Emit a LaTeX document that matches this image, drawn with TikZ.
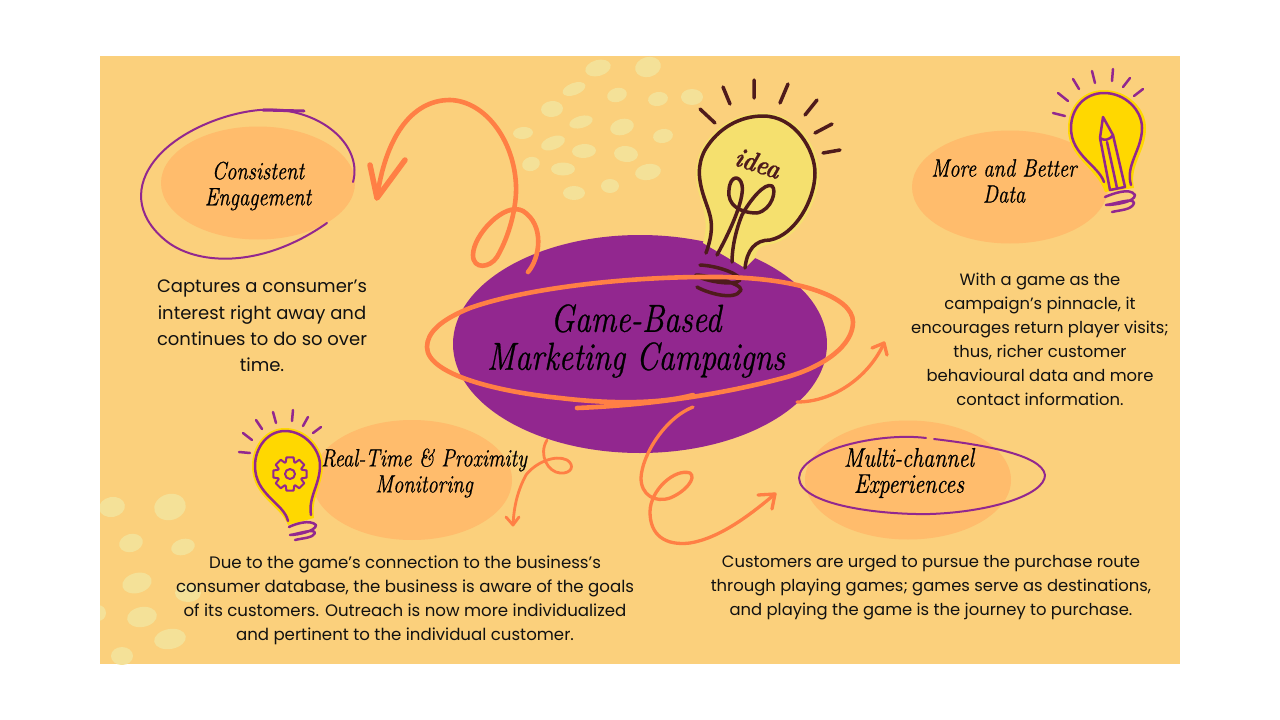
\documentclass[tikz,border=0pt]{standalone}
\usepackage{fontspec}
\setmainfont{Poppins}
\newfontfamily\handfont[FakeStretch=0.82,FakeBold=0.7]{Latin Modern Roman}
\definecolor{panelc}{HTML}{FBD07C}
\definecolor{blobc}{HTML}{FFBC6C}
\definecolor{purplec}{HTML}{92278F}
\definecolor{orangec}{HTML}{FF7F45}
\definecolor{dotc}{HTML}{F4E198}
\definecolor{brownc}{HTML}{4F1B1C}
\definecolor{bulbc}{HTML}{F5E06E}
\definecolor{goldc}{HTML}{FFD800}
\definecolor{inkc}{HTML}{111111}
\usetikzlibrary{shapes.geometric}
\tikzset{
  blob/.style={ellipse,fill=blobc,inner sep=0pt},
  body/.style={align=center,text=inkc,inner sep=0pt,font=\fontsize{16.4}{24}\selectfont},
  head/.style={align=center,text=black,inner sep=0pt,font=\handfont\itshape\fontsize{25}{26}\selectfont},
  swirl/.style={draw=orangec,line width=4.6pt,line cap=round,line join=round},
  swirlthin/.style={draw=orangec,line width=3.3pt,line cap=round,line join=round},
  ring/.style={draw=purplec,line width=2pt,line cap=round,line join=round},
  brownln/.style={draw=brownc,line width=3.5pt,line cap=round,line join=round},
  purpln/.style={draw=purplec,line width=2.5pt,line cap=round,line join=round},
}
\newcommand{\pdot}[5]{\fill[dotc,rotate around={#5:(#1,#2)}] (#1,#2) ellipse [x radius=#3,y radius=#4];}
\begin{document}
\begin{tikzpicture}[x=1pt,y=-1pt]
\useasboundingbox (0,0) rectangle (1280,720);
\fill[white] (0,0) rectangle (1280,720);
\fill[panelc] (100,56) rectangle (1180,664);
% pale dots
\begin{scope}
\clip (100,56) rectangle (1180,664);
\pdot{598}{68}{13}{8}{15}\pdot{648}{67}{13}{10}{15}\pdot{574}{89}{12}{6}{20}\pdot{617}{95}{10}{7}{15}
\pdot{658}{99}{10}{7}{10}\pdot{692}{97}{11}{8}{0}\pdot{552}{109}{11}{8}{5}\pdot{581}{122}{12}{6}{15}
\pdot{622}{127}{12}{8}{15}\pdot{663}{136}{10}{7}{10}\pdot{523}{133}{10}{6}{5}\pdot{553}{143}{12.5}{6.5}{20}
\pdot{584}{151}{12}{7}{3}\pdot{626}{154}{12}{8}{-5}\pdot{648}{172}{13}{8}{10}\pdot{531}{164}{9}{7}{15}
\pdot{563}{169}{12}{6.5}{0}\pdot{574}{193}{11}{7}{0}\pdot{610}{186}{9}{7}{0}
\pdot{112}{507}{13}{10}{10}\pdot{170}{507}{16}{13}{15}\pdot{131}{543}{12}{9}{15}\pdot{183}{547}{12}{8}{15}
\pdot{137}{583}{15}{10}{15}\pdot{188}{593}{13}{9}{0}\pdot{98}{613}{8}{8}{0}\pdot{142}{617}{15}{10}{10}
\pdot{170}{639}{16}{10}{10}\pdot{122}{656}{11}{9}{0}
\end{scope}
% blobs
\node[blob,minimum width=194pt,minimum height=113pt] (consistentblob) at (258,183) {};
\node[blob,minimum width=196pt,minimum height=113pt] (datablob) at (1010,187) {};
\node[blob,minimum width=200pt,minimum height=120pt] (realblob) at (412,480) {};
\node[blob,minimum width=206pt,minimum height=119pt] (multiblob) at (908,480) {};
\node[ellipse,fill=purplec,inner sep=0pt,minimum width=374pt,minimum height=218pt] (mainnode) at (640,344) {};
% big bulb fill
\fill[bulbc] (703,243) .. controls (708,225) and (705,215) .. (701,200) .. controls (694,180) and (694,165) .. (702,148) .. controls (716,125) and (738,113) .. (763,113) .. controls (798,113) and (819,148) .. (819,173) .. controls (819,203) and (798,238) .. (772,244) .. controls (762,245) and (757,248) .. (755,258) -- (745,268) -- cycle;
% free ends of the swirls
\coordinate (topstart) at (528,272);
\coordinate (topend) at (377,198);
\coordinate (rightstart) at (797,402);
\coordinate (rightend) at (884,343);
\coordinate (lowstart) at (693,407);
\coordinate (lowend) at (775,494);
\coordinate (smallstart) at (547,440);
\coordinate (smallend) at (513,525);
% swirl arrows
\draw[swirl] (topstart) .. controls (540,258) and (545,225) .. (523,211) .. controls (505,201) and (473,235) .. (473,255) .. controls (473,270) and (490,268) .. (497,257) .. controls (510,235) and (517,205) .. (516,185) .. controls (514,140) and (485,101) .. (450,100) .. controls (410,100) and (385,140) .. (topend);
\draw[swirl,line width=5.5pt] (370,165) -- (topend) -- (405,160);
\draw[swirlthin] (rightstart) .. controls (835,402) and (870,375) .. (rightend);
\draw[swirlthin] (872,348) -- (rightend) -- (887,355);
\draw[swirlthin] (lowstart) .. controls (665,418) and (642,455) .. (641,478) .. controls (641,495) and (655,503) .. (670,498) .. controls (685,492) and (697,478) .. (690,473) .. controls (675,468) and (650,490) .. (650,512) .. controls (650,535) and (665,546) .. (690,543) .. controls (720,538) and (750,515) .. (lowend);
\draw[swirlthin] (758,495) -- (lowend) -- (772,509);
\draw[swirlthin,line width=2.8pt] (smallstart) .. controls (538,455) and (548,472) .. (560,473) .. controls (572,474) and (575,465) .. (567,460) .. controls (555,454) and (535,463) .. (526,475) .. controls (518,490) and (514,505) .. (smallend);
\draw[swirlthin,line width=2.8pt] (506,517) -- (smallend) -- (519,517);
% rings
\draw[ring] (353,182) .. controls (362,150) and (330,115) .. (280,110) .. controls (240,106) and (180,128) .. (155,160) .. controls (135,185) and (135,215) .. (165,240) .. controls (195,265) and (260,270) .. (327,223);
\draw[ring,line width=3pt] (263,110) -- (304,111);
\draw[ring] (926,438) .. controls (880,432) and (800,450) .. (799,478) .. controls (800,505) and (880,515) .. (930,514) .. controls (990,512) and (1045,495) .. (1045,475) .. controls (1042,455) and (985,445) .. (934,439);
% big bulb outline
\draw[brownln] (706,253) .. controls (716,225) and (710,215) .. (705,200) .. controls (698,180) and (697,165) .. (705,150) .. controls (718,128) and (740,116) .. (763,116) .. controls (795,116) and (815,150) .. (815,173) .. controls (815,200) and (795,235) .. (770,240) .. controls (755,240) and (747,250) .. (745,268);
\draw[brownln] (717,255) .. controls (728,235) and (745,200) .. (742,185) .. controls (740,175) and (730,175) .. (729,190) .. controls (727,205) and (740,213) .. (757,213) .. controls (772,210) and (777,190) .. (772,186) .. controls (765,182) and (750,200) .. (742,215) .. controls (735,232) and (732,250) .. (732,262);
\draw[brownln] (700,109) -- (715,123) (723,87) -- (730,104) (754,80) -- (754,98) (788,84) -- (780,103) (817,100) -- (805,115) (832,124) -- (815,133) (840,150) -- (823,153);
\draw[brownln] (700,265) .. controls (720,266) and (741,275) .. (740,280) .. controls (735,287) and (700,280) .. (696,275) .. controls (705,275) and (742,283) .. (741,290) .. controls (735,302) and (705,292) .. (697,287);
\node[rotate=-18,inner sep=0pt,text=brownc,font=\handfont\itshape\bfseries\fontsize{28}{28}\selectfont] (idealabel) at (758,163) {idea};
% centre ring, over the lamp screw
\draw[swirl] (577,408) .. controls (650,405) and (720,395) .. (787,377) .. controls (825,366) and (853,345) .. (853,322) .. controls (853,297) and (800,278) .. (720,277) .. controls (620,276) and (520,290) .. (470,308) .. controls (440,320) and (427,333) .. (427,347) .. controls (427,375) and (500,392) .. (560,398) .. controls (610,404) and (660,404) .. (693,395);
% pencil bulb
\fill[goldc] (1105,192) .. controls (1096,167) and (1067,157) .. (1068,128) .. controls (1068,106) and (1083,90) .. (1104,90) .. controls (1127,90) and (1146,108) .. (1146,128) .. controls (1146,152) and (1129,165) .. (1134,188) -- cycle;
\draw[purpln] (1104,182) .. controls (1098,165) and (1071,155) .. (1071,128) .. controls (1071,108) and (1085,93) .. (1104,93) .. controls (1125,93) and (1142,110) .. (1142,128) .. controls (1142,150) and (1125,165) .. (1131,185);
\draw[purpln] (1053,113) -- (1065,116) (1058,93) -- (1068,101) (1073,79) -- (1079,89) (1092,71) -- (1095,83) (1113,69) -- (1112,81) (1130,78) -- (1123,87) (1143,89) -- (1134,96);
\draw[purpln] (1100,138) -- (1103,117) -- (1113,135) .. controls (1110,140) and (1104,141) .. (1100,138) -- (1110,190) -- (1125,187) -- (1113,135) (1107,142) -- (1117,188);
\draw[purpln] (1105,197) .. controls (1112,194) and (1130,187) .. (1135,195) .. controls (1135,202) and (1115,205) .. (1106,205) .. controls (1115,204) and (1133,197) .. (1134,203) .. controls (1132,210) and (1120,210) .. (1112,212);
% gear bulb
\fill[goldc] (288,525) .. controls (281,506) and (252,497) .. (252,466) .. controls (252,445) and (266,428) .. (285,428) .. controls (307,428) and (323,448) .. (323,465) .. controls (323,486) and (311,497) .. (314,518) -- cycle;
\draw[purpln] (288,521) .. controls (284,503) and (255,495) .. (255,466) .. controls (255,447) and (268,431) .. (285,431) .. controls (305,431) and (320,450) .. (320,465) .. controls (320,485) and (308,497) .. (311,515);
\draw[purpln] (239,452) -- (250,453) (243,433) -- (252,440) (256,420) -- (262,429) (273,412) -- (276,423) (293,410) -- (292,421) (308,417) -- (303,426) (321,427) -- (313,433);
\draw[purpln] (289,527) .. controls (295,524) and (310,519) .. (316,525) .. controls (316,531) and (298,535) .. (290,535) .. controls (298,534) and (314,528) .. (315,533) .. controls (313,538) and (303,538) .. (295,540);
\begin{scope}[shift={(290,474)}]
\draw[purpln,line width=2pt] (12:17) \foreach \a in {0,45,...,315} { -- ({\a+12}:17) -- ({\a+20}:12.5) -- ({\a+25}:12.5) -- ({\a+33}:17) } -- cycle;
\draw[purpln,line width=2pt] (0,0) circle [radius=5];
\end{scope}
% texts
\node[align=center,inner sep=0pt,text=black,font=\handfont\itshape\fontsize{39}{38}\selectfont] (maintitle) at (636,341) {Game-Based\\Marketing Campaigns};
\node[head] (consistenttext) at (258,186) {Consistent\\Engagement};
\node[head] (datatext) at (1004,181) {More and Better\\Data};
\node[head] (realtext) at (424,473) {Real-Time \& Proximity\\Monitoring};
\node[head,font=\handfont\itshape\fontsize{27}{26}\selectfont] (multitext) at (909,473) {Multi-channel\\Experiences};
\node[body,font=\fontsize{18}{26.3}\selectfont] (consistentbody) at (262,326) {Captures a consumer’s\\interest right away and\\continues to do so over\\time.};
\node[body] (databody) at (1040,339) {With a game as the\\campaign’s pinnacle, it\\encourages return player visits;\\thus, richer customer\\behavioural data and more\\contact information.};
\node[body,font=\fontsize{16.6}{24}\selectfont] (realbody) at (405,600) {Due to the game’s connection to the business’s\\consumer database, the business is aware of the goals\\of its customers. Outreach is now more individualized\\and pertinent to the individual customer.};
\node[body] (multibody) at (931,588) {Customers are urged to pursue the purchase route\\through playing games; games serve as destinations,\\and playing the game is the journey to purchase.};
\end{tikzpicture}
\end{document}
